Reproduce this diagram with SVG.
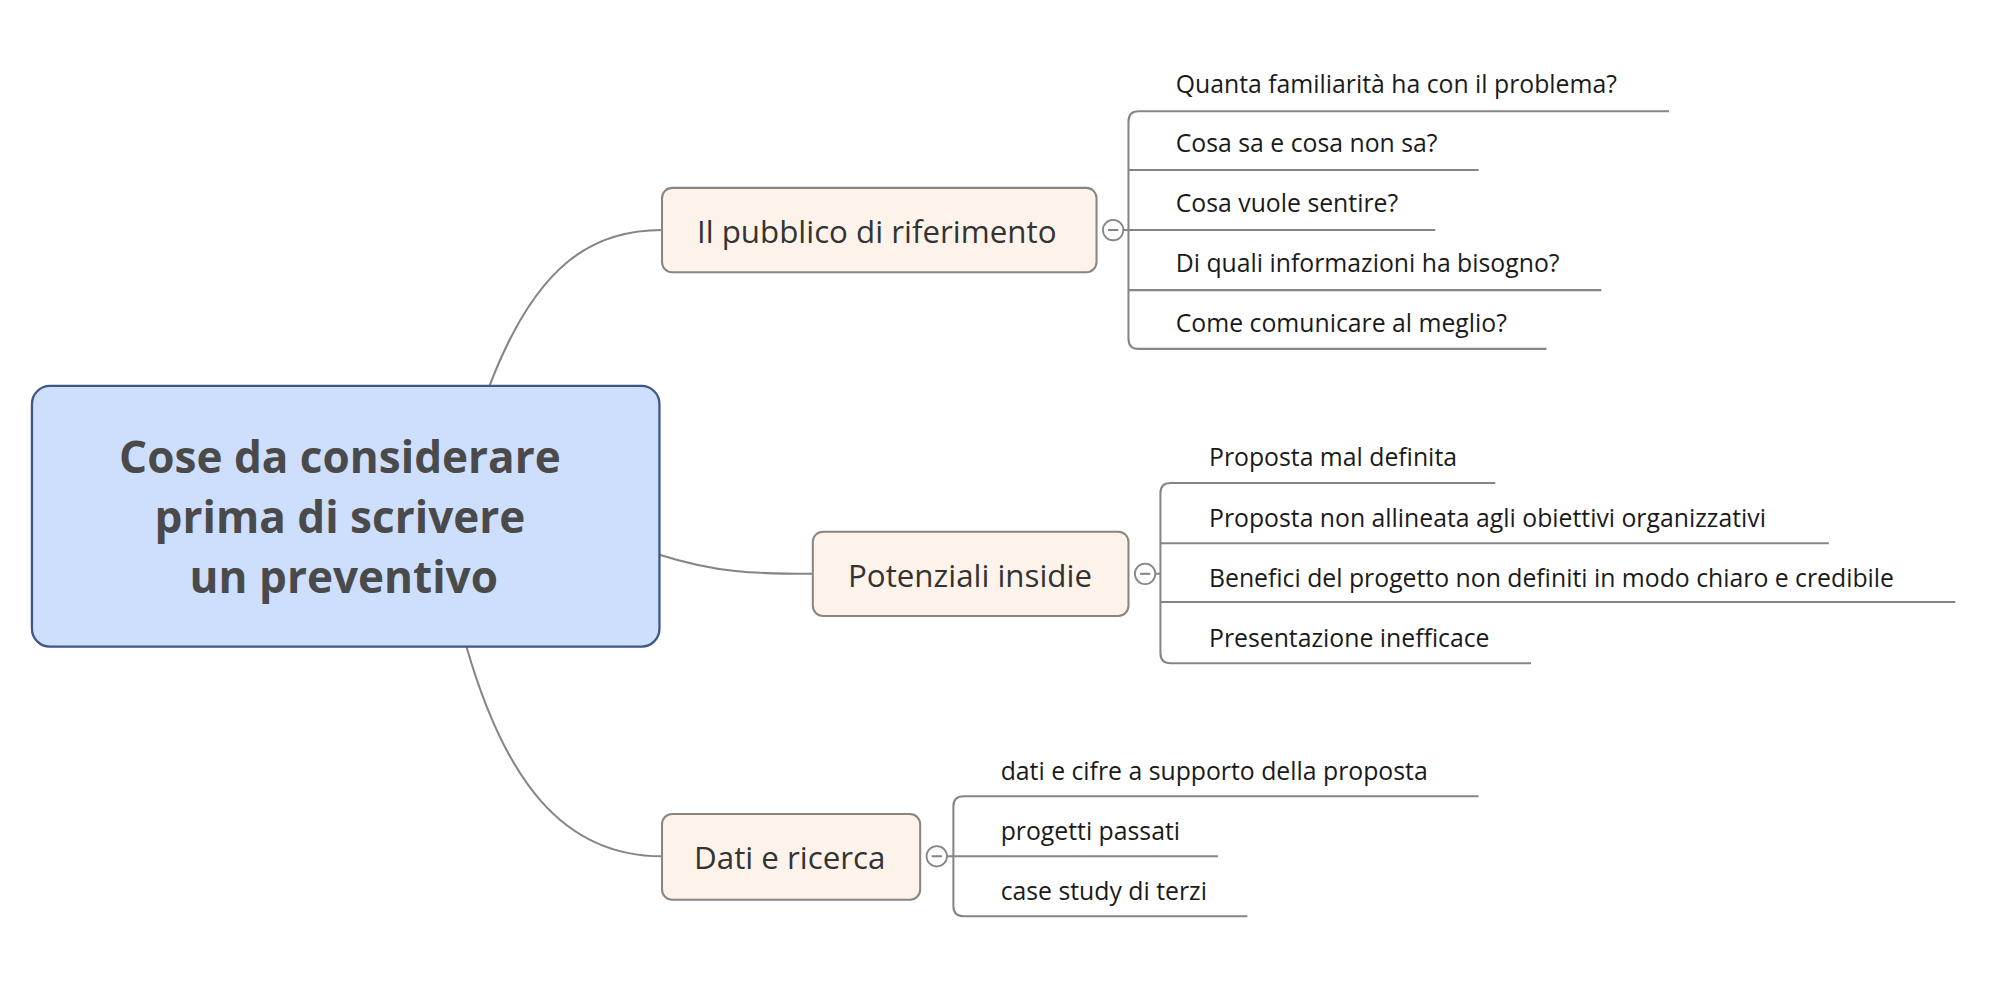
<svg xmlns="http://www.w3.org/2000/svg" width="1998" height="984" viewBox="0 0 1998 984">
<style>
.c{fill:none;stroke:#858585;stroke-width:1.6}
.t{font-family:"Open Sans","Noto Sans",sans-serif;fill:#1a1a1a;font-size:19.4px}
.m{font-family:"Open Sans","Noto Sans",sans-serif;fill:#333;font-size:24.5px;text-anchor:middle}
.n{fill:#fef3ea;stroke:#8a8580;stroke-width:1.6}
.k{fill:#fff;stroke:#858585;stroke-width:1.4}
</style>
<rect width="1998" height="984" fill="#fff"/>
<g transform="scale(1.278)">
<g id="connectors">
<path class="c" d="M383,302 C420,205 465,180 518,180"/>
<path class="c" d="M516,434 C560,448 590,449 636,449"/>
<path class="c" d="M365,506 C395,610 440,670 518,670"/>
<path class="c" d="M879,180 H883 M1306,87 H891 Q883,87 883,95 V265 Q883,273 891,273 H1210 M883,133 H1157 M883,180 H1123 M883,227 H1253"/>
<path class="c" d="M904,449 H908 M1170,378 H916 Q908,378 908,386 V511 Q908,519 916,519 H1198 M908,425 H1431 M908,471 H1530"/>
<path class="c" d="M741,670 H746 M1157,623 H754 Q746,623 746,631 V709 Q746,717 754,717 H976 M746,670 H953"/>
<circle class="k" cx="871" cy="180" r="8"/><path class="c" d="M867,180 H875"/>
<circle class="k" cx="896" cy="449" r="8"/><path class="c" d="M892,449 H900"/>
<circle class="k" cx="733" cy="670" r="8"/><path class="c" d="M729,670 H737"/>
</g>
<g id="central">
<rect x="25" y="302" width="491" height="204" rx="14" fill="#cddffd" stroke="#3e5787" stroke-width="1.8"/>
<text font-family="'Open Sans','Noto Sans',sans-serif" font-weight="bold" font-size="34.5" fill="#4a4a4a" text-anchor="middle"><tspan x="266" y="370">Cose da considerare</tspan><tspan x="266" y="417">prima di scrivere</tspan><tspan x="269" y="464">un preventivo</tspan></text>
</g>
<g id="n1"><rect class="n" x="518" y="147" width="340" height="66" rx="8"/><text class="m" x="686" y="190">Il pubblico di riferimento</text></g>
<g id="n2"><rect class="n" x="636" y="416" width="247" height="66" rx="8"/><text class="m" x="759" y="459">Potenziali insidie</text></g>
<g id="n3"><rect class="n" x="518" y="637" width="202" height="67" rx="8"/><text class="m" x="618" y="680">Dati e ricerca</text></g>
<g id="leaves1">
<text class="t" x="920" y="73">Quanta familiarità ha con il problema?</text>
<text class="t" x="920" y="119">Cosa sa e cosa non sa?</text>
<text class="t" x="920" y="166">Cosa vuole sentire?</text>
<text class="t" x="920" y="213">Di quali informazioni ha bisogno?</text>
<text class="t" x="920" y="260">Come comunicare al meglio?</text>
</g>
<g id="leaves2">
<text class="t" x="946" y="365">Proposta mal definita</text>
<text class="t" x="946" y="412">Proposta non allineata agli obiettivi organizzativi</text>
<text class="t" x="946" y="459">Benefici del progetto non definiti in modo chiaro e credibile</text>
<text class="t" x="946" y="506">Presentazione inefficace</text>
</g>
<g id="leaves3">
<text class="t" x="783" y="610">dati e cifre a supporto della proposta</text>
<text class="t" x="783" y="657">progetti passati</text>
<text class="t" x="783" y="704">case study di terzi</text>
</g>
</g>
</svg>
